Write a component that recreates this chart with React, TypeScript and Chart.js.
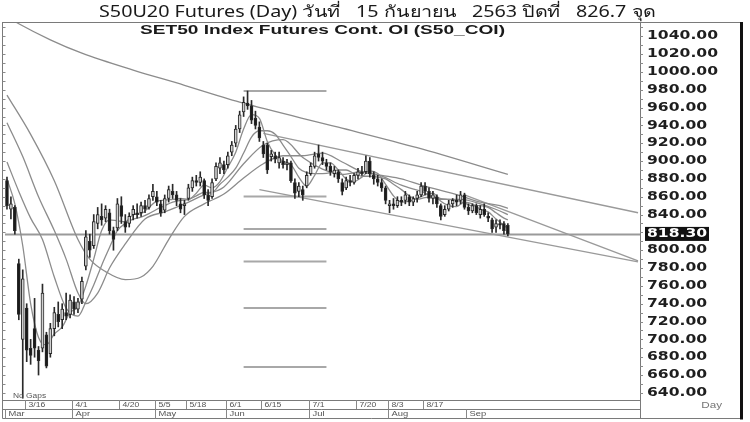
import React, { useEffect, useRef } from 'react';
import { Chart, registerables } from 'chart.js';

Chart.register(...registerables);

// ---------- DATA ----------
const titleText = 'S50U20 Futures (Day) วันที่   15 กันยายน   2563 ปิดที่   826.7 จุด';
const subtitleText = 'SET50 Index Futures Cont. OI (S50_COI)';

const tradeDates = [
  '3/9', '3/10', '3/11', '3/12', '3/13', '3/16', '3/17', '3/18', '3/19', '3/20', '3/23', '3/24', '3/25', '3/26', '3/27', '3/30', '3/31',
  '4/1', '4/2', '4/3', '4/7', '4/8', '4/9', '4/10', '4/13', '4/14', '4/15', '4/16', '4/17', '4/20', '4/21', '4/22', '4/23', '4/24', '4/27', '4/28', '4/29', '4/30',
  '5/5', '5/7', '5/8', '5/11', '5/12', '5/13', '5/14', '5/15', '5/18', '5/19', '5/20', '5/21', '5/22', '5/25', '5/26', '5/27', '5/28', '5/29',
  '6/1', '6/2', '6/4', '6/5', '6/8', '6/9', '6/10', '6/11', '6/12', '6/15', '6/16', '6/17', '6/18', '6/19', '6/22', '6/23', '6/24', '6/25', '6/26', '6/29', '6/30',
  '7/1', '7/2', '7/3', '7/7', '7/8', '7/9', '7/10', '7/13', '7/14', '7/15', '7/16', '7/17', '7/20', '7/21', '7/22', '7/23', '7/24', '7/29', '7/30', '7/31',
  '8/3', '8/4', '8/5', '8/6', '8/7', '8/10', '8/11', '8/13', '8/14', '8/17', '8/18', '8/19', '8/20', '8/21', '8/24', '8/25', '8/26', '8/27', '8/28', '8/31',
  '9/1', '9/2', '9/3', '9/4', '9/7', '9/8', '9/9', '9/10', '9/11', '9/14', '9/15',
];
const futureSlots = 33;

const opens = [
  878, 846, 848, 785, 700, 735, 690, 712, 688, 690, 705, 684, 712, 728, 722, 730, 728,
  742, 734, 745, 782, 810, 805, 830, 838, 836, 842, 822, 825, 850, 832, 830, 840, 842, 842, 850, 848, 860,
  860, 852, 845, 858, 866, 862, 852, 850, 858, 870, 878, 876, 878, 862, 860, 880, 892, 896,
  896, 910, 920, 936, 955, 965, 962, 948, 938, 918, 918, 905, 906, 898, 900, 896, 898, 876, 866, 868, 872,
  886, 894, 908, 904, 898, 894, 886, 888, 876, 870, 878, 876, 884, 888, 888, 900, 884, 880, 876, 870,
  850, 852, 850, 856, 856, 860, 854, 858, 862, 872, 866, 858, 860, 850, 840, 846, 852, 856, 856, 862,
  848, 844, 850, 840, 846, 838, 834, 826, 830, 830, 828,
];
const highs = [
  882, 860, 850, 790, 778, 740, 700, 746, 692, 762, 708, 718, 736, 742, 740, 752, 750,
  748, 746, 770, 822, 818, 840, 848, 852, 850, 846, 826, 858, 860, 840, 842, 850, 852, 854, 856, 862, 874,
  866, 856, 862, 872, 874, 866, 858, 856, 874, 882, 884, 888, 880, 868, 880, 898, 904, 900,
  910, 922, 940, 956, 972, 978.6, 968, 956, 944, 922, 920, 912, 910, 910, 904, 902, 900, 880, 876, 872, 888,
  898, 910, 918, 910, 902, 898, 894, 890, 880, 882, 884, 886, 892, 894, 906, 904, 888, 884, 880, 872,
  856, 858, 860, 860, 866, 862, 860, 866, 876, 876, 870, 866, 862, 852, 850, 856, 858, 862, 866, 864,
  852, 852, 852, 850, 852, 842, 836, 834, 834, 832, 830,
];
const lows = [
  846, 835, 818, 722, 634, 675, 672, 680, 660, 686, 668, 680, 704, 714, 712, 722, 724,
  728, 730, 740, 778, 792, 802, 824, 828, 832, 818, 800, 822, 830, 820, 826, 834, 836, 838, 842, 846, 856,
  850, 838, 842, 854, 858, 850, 842, 840, 856, 866, 872, 872, 858, 850, 858, 878, 886, 886,
  892, 906, 916, 932, 950, 958, 942, 936, 922, 904, 886, 900, 898, 892, 892, 890, 876, 858, 860, 856, 870,
  884, 892, 900, 896, 890, 884, 882, 876, 862, 868, 872, 874, 880, 884, 886, 882, 874, 872, 866, 852,
  842, 846, 848, 850, 852, 850, 850, 854, 860, 862, 854, 852, 848, 834, 838, 844, 848, 850, 852, 846,
  840, 842, 840, 836, 838, 832, 820, 820, 824, 818, 816,
];
const closes = [
  850, 852, 822, 728, 768, 688, 682, 690, 676, 752, 670, 712, 730, 720, 734, 726, 744,
  734, 742, 765, 815, 800, 832, 840, 834, 846, 822, 812, 852, 838, 826, 838, 846, 840, 850, 846, 858, 866,
  854, 842, 858, 868, 862, 856, 846, 852, 870, 878, 876, 882, 862, 856, 876, 894, 898, 890,
  906, 918, 936, 952, 966, 962, 946, 940, 926, 908, 890, 908, 902, 904, 896, 898, 878, 864, 872, 862, 884,
  894, 906, 904, 900, 894, 888, 890, 880, 866, 878, 876, 884, 888, 886, 900, 886, 880, 876, 870, 856,
  852, 850, 856, 854, 862, 854, 858, 862, 872, 866, 858, 862, 852, 838, 846, 852, 856, 854, 862, 848,
  844, 850, 842, 846, 840, 836, 824, 830, 828, 822, 818.3,
];
const lastPrice = 818.3;

// moving averages: [bar index, value]
const maFast = [
  [0, 880], [2, 852], [4, 805], [6, 740], [8, 702], [10, 694], [12, 706], [14, 714], [16, 730], [18, 737], [20, 760],
  [22, 790], [24, 822], [26, 834], [28, 833], [30, 832], [32, 840], [34, 841], [36, 848], [38, 855], [40, 856], [42, 857],
  [44, 858], [46, 857], [48, 864], [50, 873], [52, 870], [54, 877], [56, 893], [58, 910], [60, 936], [62, 952], [64, 948],
  [66, 922], [68, 907], [70, 900], [72, 896], [74, 882], [76, 872], [78, 884], [80, 898], [82, 898], [84, 890], [86, 880],
  [88, 877], [90, 882], [92, 889], [94, 886], [96, 874], [98, 861], [100, 854], [102, 855], [104, 858], [106, 862],
  [108, 864], [110, 855], [112, 850], [114, 849], [116, 854], [118, 852], [120, 846], [122, 843], [124, 835], [126, 828], [127, 824],
];
const maMid = [
  [0, 899], [3, 866], [6, 836], [9, 812], [12, 770], [15, 735], [18, 726], [20, 742], [22, 761], [24, 783], [26, 803],
  [28, 822], [30, 830], [32, 835], [34, 837], [36, 841], [38, 846], [40, 850], [42, 854], [44, 856], [46, 857], [48, 861],
  [50, 865], [52, 865], [54, 874], [56, 882], [58, 892], [60, 909], [62, 927], [64, 934], [66, 934], [68, 930], [70, 918],
  [72, 905], [74, 892], [76, 887], [78, 886], [80, 886], [82, 887], [84, 890], [86, 890], [88, 886], [90, 883], [92, 883],
  [94, 882], [96, 880], [98, 874], [100, 868], [102, 861], [104, 857], [106, 859], [108, 860], [110, 858], [112, 857],
  [114, 856], [116, 853], [118, 850], [120, 850], [122, 848], [124, 842], [126, 836], [127, 834],
];
const maSlow = [
  [0, 943], [4, 905], [8, 860], [12, 822], [15, 790], [18, 752], [20, 740], [23, 752], [26, 780], [30, 807], [35, 835],
  [40, 843], [45, 852], [50, 862], [55, 871], [60, 897], [65, 918], [70, 924], [75, 904], [80, 891], [85, 885], [90, 888],
  [95, 883], [100, 873], [105, 866], [110, 857], [115, 857], [120, 852], [125, 844], [127, 840],
];
const maSlowest = [
  [0, 974], [6, 930], [12, 878], [18, 812], [21, 790], [25, 776], [30, 767], [34, 770], [37, 782], [41, 812], [45, 838],
  [50, 852], [55, 863], [60, 881], [65, 897], [70, 906], [75, 906], [80, 909], [85, 899], [90, 888], [95, 884], [100, 880],
  [105, 873], [110, 867], [115, 861], [120, 854], [125, 850], [127, 847],
];
const ma200 = [
  [0, 1062], [3, 1054], [11, 1036], [19, 1021], [32, 1002], [45, 985], [53, 974], [59, 966], [84, 938], [104, 915], [127, 885],
];

// trend lines: [[startIndex, startValue], [endIndex, endValue]]
const trendUpper = [[65, 931], [160, 842]];
const trendLower = [[64, 868], [160, 787]];
const trendMid = [[116, 862], [160, 788]];

// Fibonacci retracement
const fibHigh = 978.6;
const fibLow = 669.0;
const fibRatios = [0, 0.382, 0.5, 0.618, 0.786, 1];
const fibSpan = [60, 81];

// axis labels
const yTicks = [1040, 1020, 1000, 980, 960, 940, 920, 900, 880, 860, 840, 800, 780, 760, 740, 720, 700, 680, 660, 640];
const dateTickLabels = ['3/16', '4/1', '4/20', '5/5', '5/18', '6/1', '6/15', '7/1', '7/20', '8/3', '8/17'];
const monthTicks = [['Mar', '3/9'], ['Apr', '4/1'], ['May', '5/5'], ['Jun', '6/1'], ['Jul', '7/1'], ['Aug', '8/3'], ['Sep', '9/1']];
const yMin = 632;
const yMax = 1056;

// ---------- helpers ----------
const N = tradeDates.length + futureSlots;
const labels = [...tradeDates, ...Array.from({ length: futureSlots }, () => '')];
function sparse(pts: number[][]) {
  const arr: (number | null)[] = Array(N).fill(null);
  pts.forEach(([i, v]) => { arr[i] = v; });
  return arr;
}

function scaledText(ctx: CanvasRenderingContext2D, text: string, x: number, y: number, font: string, color: string, align: CanvasTextAlign, hs: number) {
  ctx.save();
  ctx.font = font;
  ctx.fillStyle = color;
  ctx.textBaseline = 'middle';
  ctx.textAlign = align;
  ctx.translate(x, y);
  ctx.scale(hs, 1);
  ctx.fillText(text, 0, 0);
  ctx.restore();
}
function fitScale(ctx: CanvasRenderingContext2D, text: string, font: string, width: number) {
  ctx.save();
  ctx.font = font;
  const w = ctx.measureText(text).width;
  ctx.restore();
  return w > 0 ? width / w : 1;
}

const decorPlugin = {
  id: 'decor',
  beforeDraw(chart: any) {
    const { ctx, chartArea: ca, scales } = chart;
    const y = scales.y;
    ctx.save();
    ctx.fillStyle = '#ffffff';
    ctx.fillRect(0, 0, chart.width, chart.height);
    const yp = Math.round(y.getPixelForValue(lastPrice)) + 0.5;
    ctx.strokeStyle = '#9a9a9a';
    ctx.lineWidth = 2;
    ctx.beginPath();
    ctx.moveTo(ca.left, yp);
    ctx.lineTo(ca.right, yp);
    ctx.stroke();
    ctx.restore();
  },
  afterDraw(chart: any) {
    const { ctx, chartArea: ca, scales } = chart;
    const x = scales.x;
    const y = scales.y;
    const right = 740;
    const bottom = 418.5;
    ctx.save();
    ctx.strokeStyle = '#7a7a7a';
    ctx.lineWidth = 1;
    ctx.beginPath();
    ctx.moveTo(2.5, ca.top + 0.5); ctx.lineTo(right, ca.top + 0.5);
    ctx.moveTo(2.5, ca.top); ctx.lineTo(2.5, bottom);
    ctx.moveTo(2.5, bottom); ctx.lineTo(right, bottom);
    ctx.moveTo(ca.right + 0.5, ca.top); ctx.lineTo(ca.right + 0.5, bottom);
    ctx.moveTo(2.5, ca.bottom + 0.5); ctx.lineTo(ca.right, ca.bottom + 0.5);
    ctx.moveTo(2.5, 409.5); ctx.lineTo(ca.right, 409.5);
    ctx.stroke();
    ctx.strokeStyle = '#111';
    ctx.lineWidth = 3;
    ctx.beginPath();
    ctx.moveTo(right + 1.5, ca.top); ctx.lineTo(right + 1.5, bottom + 1);
    ctx.stroke();
    ctx.strokeStyle = '#8a8a8a';
    ctx.lineWidth = 1;
    ctx.beginPath();
    for (let v = 640; v <= 1050; v += 10) {
      const py = Math.round(y.getPixelForValue(v)) + 0.5;
      ctx.moveTo(2.5, py); ctx.lineTo(5.5, py);
      ctx.moveTo(ca.right, py); ctx.lineTo(ca.right + 3, py);
    }
    ctx.stroke();

    const yFont = 'bold 12px "DejaVu Sans", sans-serif';
    const hs = fitScale(ctx, '1040.00', yFont, 71);
    yTicks.forEach((v) => {
      scaledText(ctx, v.toFixed(2), 647, y.getPixelForValue(v), yFont, '#1e1e1e', 'left', hs);
    });
    const lp = y.getPixelForValue(lastPrice);
    ctx.fillStyle = '#111';
    ctx.fillRect(645, lp - 7, 64, 14);
    scaledText(ctx, lastPrice.toFixed(2), 647, lp, yFont, '#ffffff', 'left', hs);
    scaledText(ctx, 'Day', 722, 406, '9px "Liberation Sans", sans-serif', '#777', 'right', 1.3);

    const half = (x.getPixelForValue(1) - x.getPixelForValue(0)) / 2;
    const xFont = '7.5px "Liberation Sans", sans-serif';
    ctx.strokeStyle = '#888';
    ctx.lineWidth = 1;
    dateTickLabels.forEach((lab) => {
      const i = tradeDates.indexOf(lab);
      const px = Math.round(x.getPixelForValue(i) - half) + 0.5;
      ctx.beginPath(); ctx.moveTo(px, ca.bottom); ctx.lineTo(px, 409); ctx.stroke();
      scaledText(ctx, lab, px + 3, 405, xFont, '#555', 'left', 1.15);
    });
    monthTicks.forEach(([m, d]) => {
      const i = tradeDates.indexOf(d);
      const px = Math.round(x.getPixelForValue(i) - half) + 0.5;
      ctx.beginPath(); ctx.moveTo(px, 409.5); ctx.lineTo(px, bottom); ctx.stroke();
      scaledText(ctx, m, px + 3, 414, xFont, '#555', 'left', 1.25);
    });
    scaledText(ctx, 'No Gaps', 13, 396, '7px "Liberation Sans", sans-serif', '#555', 'left', 1.2);

    const sFont = 'bold 13px "Liberation Sans", Arial, sans-serif';
    const ss = fitScale(ctx, subtitleText, sFont, 365);
    scaledText(ctx, subtitleText, (ca.left + ca.right) / 2, 30, sFont, '#1a1a1a', 'center', ss);
    const tFont = '16px "Noto Sans", "DejaVu Sans", sans-serif';
    const ts = fitScale(ctx, titleText, tFont, 556);
    scaledText(ctx, titleText, 377, 12, tFont, '#1a1a1a', 'center', ts);
    ctx.restore();
  },
};

function lineDs(pts: number[][], color: string, width: number, tension: number) {
  return {
    type: 'line',
    data: sparse(pts),
    borderColor: color,
    borderWidth: width,
    pointRadius: 0,
    spanGaps: true,
    tension,
    cubicInterpolationMode: tension > 0 ? 'monotone' : 'default',
    order: 5,
  };
}

export default function App() {
  const ref = useRef<HTMLCanvasElement | null>(null);
  useEffect(() => {
    if (!ref.current) return;
    const fibDatasets = fibRatios.map((r) => {
      const v = fibHigh - (fibHigh - fibLow) * r;
      return lineDs([[fibSpan[0], v], [fibSpan[1], v]], '#a8a8a8', 2, 0);
    });
    const chart = new Chart(ref.current, {
      type: 'bar',
      data: {
        labels,
        datasets: [
          {
            type: 'bar',
            data: lows.map((l, i) => [l, highs[i]]),
            backgroundColor: '#2a2a2a',
            barThickness: 1,
            grouped: false,
            order: 2,
          },
          {
            type: 'bar',
            data: opens.map((o, i) => [o, closes[i]]),
            backgroundColor: closes.map((c, i) => (c >= opens[i] ? '#d0d0d0' : '#1a1a1a')),
            borderColor: '#2a2a2a',
            borderWidth: 1,
            borderSkipped: false,
            barThickness: 3,
            grouped: false,
            order: 1,
          },
          lineDs(maFast, '#8c8c8c', 1.3, 0.4),
          lineDs(maMid, '#8c8c8c', 1.3, 0.4),
          lineDs(maSlow, '#8c8c8c', 1.3, 0.4),
          lineDs(maSlowest, '#8c8c8c', 1.3, 0.4),
          lineDs(ma200, '#8c8c8c', 1.3, 0.4),
          lineDs(trendUpper, '#9a9a9a', 1.4, 0),
          lineDs(trendLower, '#9a9a9a', 1.4, 0),
          lineDs(trendMid, '#9a9a9a', 1.4, 0),
          ...fibDatasets,
        ] as any,
      },
      options: {
        animation: false,
        responsive: false,
        maintainAspectRatio: false,
        layout: { padding: { top: 22, left: 5, right: 110, bottom: 22 } },
        plugins: { legend: { display: false }, tooltip: { enabled: false }, title: { display: false } },
        scales: {
          x: { type: 'category', display: false, offset: true, grid: { display: false } },
          y: { type: 'linear', display: false, min: yMin, max: yMax },
        },
      } as any,
      plugins: [decorPlugin],
    });
    return () => chart.destroy();
  }, []);
  return (
    <div style={{ position: 'fixed', left: 0, top: 0, width: 750, height: 422, background: '#fff' }}>
      <canvas ref={ref} width={750} height={422} style={{ width: 750, height: 422, display: 'block' }} />
    </div>
  );
}
